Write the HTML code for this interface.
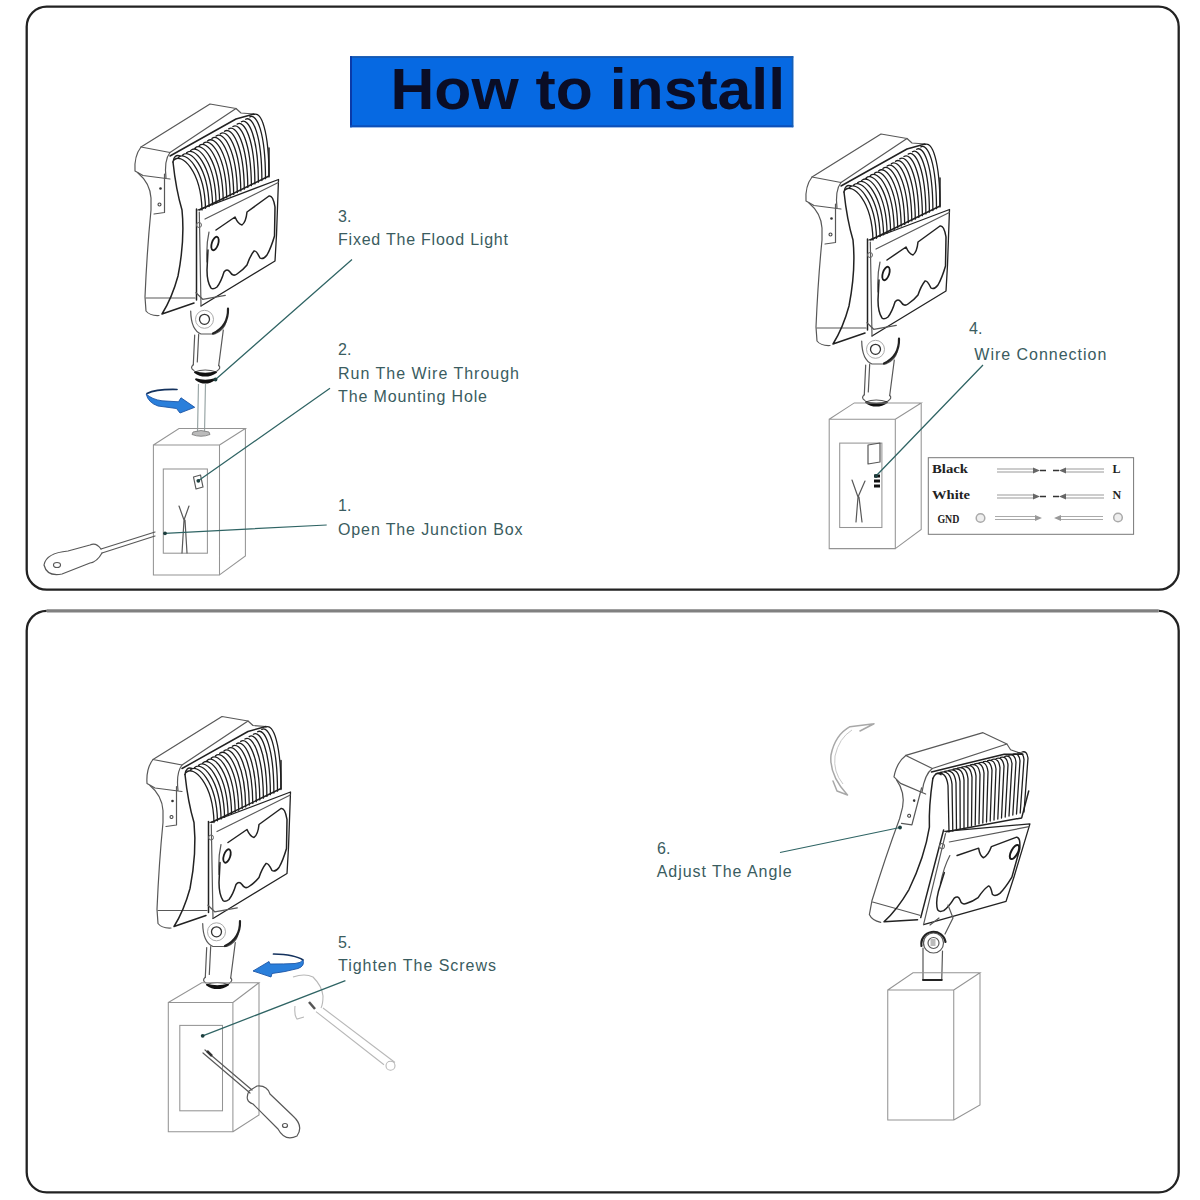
<!DOCTYPE html>
<html><head><meta charset="utf-8">
<style>
html,body{margin:0;padding:0;background:#fff;width:1200px;height:1200px;overflow:hidden}
svg{display:block}
.t{font-family:"Liberation Sans",sans-serif;font-size:16px;fill:#3a5c60}
.d{stroke:#222;stroke-width:1.5;fill:none;stroke-linejoin:round;stroke-linecap:round}
.l{stroke:#585858;stroke-width:1.2;fill:none;stroke-linejoin:round;stroke-linecap:round}
.f{stroke:#1e1e1e;stroke-width:1.3;fill:none;stroke-linecap:round}
.b{stroke:#949494;stroke-width:1.05;fill:none}
.ld{stroke:#2f6464;stroke-width:1.25;fill:none}
</style></head>
<body>
<svg width="1200" height="1200" viewBox="0 0 1200 1200">
<rect x="26.7" y="6.7" width="1152" height="583" rx="20" ry="20" fill="none" stroke="#222" stroke-width="2.3"/>
<path d="M46.7,610.8 A20,20 0 0 0 26.7,630.8 L26.7,1172.3 A20,20 0 0 0 46.7,1192.3 L1158.7,1192.3 A20,20 0 0 0 1178.7,1172.3 L1178.7,630.8 A20,20 0 0 0 1158.7,610.8" fill="none" stroke="#222" stroke-width="2.3"/>
<path d="M46.7,610.8 L1158.7,610.8" stroke="#808080" stroke-width="3.2"/>
<rect x="350" y="56.2" width="443.3" height="71" fill="#0669e2"/><path d="M350,57 H793.3" stroke="#1a56a8" stroke-width="1.6"/><path d="M351,56.2 V127.2" stroke="#0a3aa8" stroke-width="2"/><path d="M350,126.2 H793.3" stroke="#0c4fb8" stroke-width="2"/><path d="M792.5,56.2 V127.2" stroke="#175fb5" stroke-width="1.5"/>
<text x="390.5" y="109" textLength="394.6" lengthAdjust="spacingAndGlyphs" style="font-family:'Liberation Sans',sans-serif;font-weight:bold;font-size:57.5px;fill:#0a0d26">How to install</text>
<defs><g id="fl"><path class="l" d="M210,104 L236,108.5 L170,152.5 L141,147 Z"/>
<path class="l" d="M141,147 Q134,156 135,171 L143,175.5 L170,179 M170,152.5 Q164,160 166,178"/>
<path class="l" d="M236,108.5 L241,113 L254,114"/>
<path class="l" d="M138,173 Q150,183 151,198 L151,210 Q147,250 145,297 L146,311 Q150,316 159,315.5"/>
<path class="l" d="M164.5,174 L164.5,212.5 L154,214"/>
<circle cx="160.5" cy="188.5" r="1.3" fill="#333"/><circle cx="159.5" cy="204.5" r="1.5" fill="none" stroke="#444" stroke-width="1.1"/>
<path class="l" d="M146,298 L195,298"/>
<path class="d" d="M173,162 Q176,190 182,210 Q185,240 178,276 Q172,298 162,314 L194,303"/>
<path class="d" d="M173,162 Q174,154 180,156"/>
<path class="d" d="M170,156 L236,119 L254,114"/>
<path class="d" d="M199.5,210 L269,176 L269,148"/>
<path class="d" d="M196.5,209 L196.5,300"/>
<path class="d" style="stroke-width:1.3" d="M198,210 L278.5,179.5 L276.5,235 L275,261 L201,306"/>
<path class="l" d="M205,219 L278.3,182.5 M199.3,212 L201,306 M207,262 Q206,245 209,232"/>
<circle cx="199" cy="225" r="2.5" fill="none" stroke="#666" stroke-width="1"/>
<path class="d" d="M216,230 L235,217 Q238,224 242,225 Q246,222 247,212 L269,196 Q273,195 275,207 L274.5,236 Q271,248 267,255 Q263,260 260,258 Q256,250 254,251 Q250,256 247,265 Q243,270 237,274 Q233,277 230,272 Q227,268 224,272 Q221,282 217,287 Q213,290 211,288 Q207,282 207,270 L208,250"/></g>
<ellipse id="ov" cx="215" cy="243.5" rx="3.2" ry="7" transform="rotate(18 215 243.5)" fill="none" stroke="#1a1a1a" stroke-width="1.8"/>
<path id="fins" class="f" d="M174.0,160.0 C181.0,152.5 201.0,170.0 202.0,210.0 M178.2,157.6 C185.2,150.3 204.6,167.9 205.5,208.3 M182.4,155.2 C189.4,148.1 208.2,165.8 209.1,206.5 M186.6,152.8 C193.6,145.9 211.7,163.7 212.6,204.8 M190.8,150.4 C197.8,143.8 215.3,161.6 216.1,203.1 M195.1,148.0 C202.1,141.6 218.9,159.5 219.6,201.3 M199.3,145.6 C206.3,139.4 222.5,157.4 223.2,199.6 M203.5,143.2 C210.5,137.2 226.1,155.3 226.7,197.8 M207.7,140.8 C214.7,135.0 229.6,153.2 230.2,196.1 M211.9,138.4 C218.9,132.8 233.2,151.1 233.7,194.4 M216.1,136.1 C223.1,130.7 236.8,148.9 237.3,192.6 M220.3,133.7 C227.3,128.5 240.4,146.8 240.8,190.9 M224.5,131.3 C231.5,126.3 243.9,144.7 244.3,189.2 M228.7,128.9 C235.7,124.1 247.5,142.6 247.8,187.4 M232.9,126.5 C239.9,121.9 251.1,140.5 251.4,185.7 M237.2,124.1 C244.2,119.7 254.7,138.4 254.9,183.9 M241.4,121.7 C248.4,117.6 258.3,136.3 258.4,182.2 M245.6,119.3 C252.6,115.4 261.8,134.2 261.9,180.5 M249.8,116.9 C256.8,113.2 265.4,132.1 265.5,178.7 M254.0,114.5 C261.0,111.0 269.0,130.0 269.0,177.0"/>
<g id="kn"><path class="l" d="M196,292.7 L202.7,299.3 L225.3,295.3 M190.7,311 Q191,330 201,334 L214.7,334 Q224,330 226,322"/>
<circle cx="204.5" cy="319.3" r="9" fill="none" stroke="#aaa" stroke-width="1"/><circle cx="204.5" cy="319.3" r="5" fill="none" stroke="#333" stroke-width="1.3"/>
<path class="d" style="stroke-width:2.2" d="M228,308.7 Q228.5,326 213,333.5"/>
<path class="l" d="M194.7,335 L193.3,364.7 M223.3,330 L218.7,365.5 M198.7,334 L197.3,362"/>
<path class="l" d="M193.3,364.7 Q189.5,368 194,370.5 M218.7,365.5 Q221.5,368 217,371"/>
<path class="l" d="M194.5,372 Q205,368 216.5,372"/>
<path d="M194.5,372 Q205,379.5 216.5,372 Q205,375 194.5,372 Z" fill="#111" stroke="#111" stroke-width="1.6"/></g></defs>
<g transform=""><use href="#fl"/><use href="#ov"/><use href="#fins"/><use href="#kn"/></g>
<g transform="translate(671,30)"><use href="#fl"/><use href="#ov"/><use href="#fins"/><use href="#kn"/></g>
<g transform="translate(12,612.5)"><use href="#fl"/><use href="#ov"/><use href="#fins"/><use href="#kn"/></g>
<use href="#fl" transform="matrix(0.9623,0.2701,-0.2515,0.962,807.08,575.93)"/>
<ellipse cx="1014.5" cy="852" rx="3.3" ry="7.8" transform="rotate(28 1014.5 852)" fill="none" stroke="#1a1a1a" stroke-width="2"/>
<path class="f" d="M936.0,773.5 Q946.2,770.5 948.0,785.5 L949.0,832.0 M940.3,772.4 Q950.2,769.5 952.0,784.1 L952.8,831.0 M944.6,771.4 Q954.3,768.5 956.0,782.8 L956.5,830.0 M948.9,770.3 Q958.3,767.5 960.0,781.4 L960.2,829.0 M953.2,769.2 Q962.4,766.5 964.0,780.0 L964.0,828.0 M957.5,768.1 Q966.4,765.5 968.0,778.6 L967.8,827.0 M961.8,767.0 Q970.5,764.5 972.0,777.2 L971.5,826.0 M966.1,766.0 Q974.5,763.5 976.0,775.9 L975.2,825.0 M970.4,764.9 Q978.6,762.5 980.0,774.5 L979.0,824.0 M974.7,763.8 Q982.6,761.5 984.0,773.1 L982.8,823.0 M979.0,762.8 Q986.6,760.5 988.0,771.8 L986.5,822.0 M983.3,761.7 Q990.7,759.5 992.0,770.4 L990.2,821.0 M987.6,760.6 Q994.7,758.5 996.0,769.0 L994.0,820.0 M991.9,759.5 Q998.8,757.5 1000.0,767.6 L997.8,819.0 M996.2,758.5 Q1002.8,756.5 1004.0,766.2 L1001.5,818.0 M1000.5,757.4 Q1006.9,755.5 1008.0,764.9 L1005.2,817.0 M1004.8,756.3 Q1010.9,754.5 1012.0,763.5 L1009.0,816.0 M1009.1,755.2 Q1015.0,753.5 1016.0,762.1 L1012.8,815.0 M1013.4,754.1 Q1019.0,752.5 1020.0,760.8 L1016.5,814.0 M1017.7,753.1 Q1023.1,751.5 1024.0,759.4 L1020.2,813.0 M1022.0,752.0 Q1027.1,750.5 1028.0,758.0 L1024.0,812.0"/>
<path d="M195.5,379 Q205.3,386.5 215,379 Q205.3,382 195.5,379 Z" fill="#111" stroke="#111" stroke-width="1.6"/>
<path d="M198.5,384 L197.5,432 M205.5,384 L204.5,432" stroke="#99a6a6" stroke-width="1.2" fill="none"/>
<path d="M192,434.5 Q201,438 210,434.5 L209,432 Q201,429 193,432 Z" fill="#bbb" stroke="#777" stroke-width="0.8"/>
<path class="d" style="stroke-width:2.2" d="M921.5,946 A11.5,11.5 0 0 1 945.5,942"/>
<circle cx="933.5" cy="943" r="10" class="l"/><circle cx="933.5" cy="943" r="5.5" class="l"/><rect x="930.5" y="939" width="5" height="7" fill="#bbb"/>
<path class="l" d="M923,948 L923,979.5 M942.5,951 L941.75,979.5 M930,925 L939,918 M948,905 L953,918 L945,934"/>
<path class="d" style="stroke-width:2" d="M923,980 L941.75,980"/>
<path class="b" d="M153.4,445 L219.5,445 L219.5,574.9 L153.4,574.9 Z M153.4,445 L179,428.5 L245.4,428.5 L219.5,445 M245.4,428.5 L245.4,556 L219.5,574.9"/>
<rect class="b" x="163.3" y="469" width="44.1" height="84.2"/>
<path class="b" d="M829.2,419.2 L895.3,419.2 L895.3,548.6 L829.2,548.6 Z M829.2,419.2 L854.3,402.9 L921.2,402.9 L895.3,419.2 M921.2,402.9 L921.2,529.4 L895.3,548.6"/>
<rect class="b" x="839.7" y="443.1" width="42.2" height="84.4"/>
<path class="b" d="M168.3,1002.5 L232.9,1002.5 L232.9,1131.7 L168.3,1131.7 Z M168.3,1002.5 L201.7,982.7 L259,982.7 L232.9,1002.5 M259,982.7 L259,1115 L232.9,1131.7"/>
<rect class="b" x="179.8" y="1025.4" width="42.7" height="85.4"/>
<path class="b" d="M887.75,990 L953.75,990 L953.75,1120 L887.75,1120 Z M887.75,990 L913,972.75 L980,972.75 L953.75,990 M980,972.75 L980,1105 L953.75,1120"/>
<path class="l" d="M193.5,477 L200.5,475 L203,487 L196,489 Z"/>
<path class="l" d="M179,506 L184,520 L189,506 M184,520 L182,553 M185,520 L187,553"/>
<path class="l" d="M868,445 L880,443 L880,462 L868,464 Z"/>
<path d="M874,476 h6 M874,481 h6 M874,486 h6" stroke="#111" stroke-width="3"/>
<path class="l" d="M852,480 L858,497 L865,481 M858,497 L856,522 M859,497 L862,522"/>
<path class="l" d="M101,549 L155,532 M102,553 L155,536"/>
<path class="l" d="M101,549 Q96,542 90,545 L68,551 Q46,553 44,565 Q47,577 62,574 L90,563 Q97,562 102,553"/>
<ellipse cx="57" cy="565" rx="3.5" ry="2.5" class="l"/>
<path class="l" d="M205,1050 L252,1090 M203,1053 L250,1093"/>
<path d="M207,1051 L212,1056" stroke="#333" stroke-width="2.5"/>
<path class="l" d="M249,1091 Q244,1101 253,1104 L278,1129 Q285,1142 297,1136 Q304,1126 293,1116 L270,1094 Q267,1085 257,1086 Z"/>
<ellipse cx="285" cy="1125.5" rx="2.5" ry="2" class="l"/>
<path stroke="#b8b8b8" stroke-width="1.1" fill="none" d="M293,977 Q305,973 313,977 Q322,986 323,996 Q323,1004 321,1008 M295,1006 Q294,1015 297,1019 L304,1017 M316,1011.6 L384,1064.7 M323,1008 L395,1062.5"/>
<path d="M309,1002 L315,1009" stroke="#555" stroke-width="2.5"/>
<circle cx="390.5" cy="1065.8" r="4.5" fill="none" stroke="#b8b8b8" stroke-width="1.1"/>
<path d="M147,393.5 Q156,389 177,389.5" stroke="#14325e" stroke-width="1.7" fill="none" stroke-linecap="round"/>
<path d="M146.2,394 Q152,399.5 162,400.8 L178.5,401.8 L181,397.8 L194.7,407.3 L180,413 L176.5,408.5 L158,406 Q148,402.5 146.2,394 Z" fill="#2a7fdb" stroke="#1d56a6" stroke-width="0.9"/>
<path d="M273.5,954 Q295,954.5 303,960" stroke="#14325e" stroke-width="1.7" fill="none" stroke-linecap="round"/>
<path d="M253,971 L269,961.5 L270,964 Q285,964 295,963.5 Q301,963 303,960 Q305,966 298,968.5 Q285,972 272,973.5 L271,977 Z" fill="#2a7fdb" stroke="#1d56a6" stroke-width="0.9"/>
<path stroke="#a8a8a8" stroke-width="1.5" fill="none" stroke-linecap="round" stroke-linejoin="round" d="M874,723.75 L850,726.7 Q835,735 831,755 Q829,775 847.5,795 M874,723.75 L860,731 M833,781 L837,791 L847.5,795"/><path stroke="#c8c8c8" stroke-width="1" fill="none" d="M852,730 Q839,738 835,756 Q833,772 843,784"/>
<rect x="928.3" y="457.7" width="205.3" height="76.6" fill="none" stroke="#777" stroke-width="1"/>
<path stroke="#999" stroke-width="1" fill="none" d="M997,469.0 h36 M997,472.0 h36 M1066,469.0 h38 M1066,472.0 h38"/>
<path fill="#666" d="M1033,467.5 L1040,470.5 L1033,473.5 Z M1066,467.5 L1059,470.5 L1066,473.5 Z"/><path stroke="#333" stroke-width="1.3" d="M1040,470.5 h6 M1053,470.5 h6"/>
<path stroke="#999" stroke-width="1" fill="none" d="M997,495.0 h36 M997,498.0 h36 M1066,495.0 h38 M1066,498.0 h38"/>
<path fill="#666" d="M1033,493.5 L1040,496.5 L1033,499.5 Z M1066,493.5 L1059,496.5 L1066,499.5 Z"/><path stroke="#333" stroke-width="1.3" d="M1040,496.5 h6 M1053,496.5 h6"/>
<path stroke="#aaa" stroke-width="1.2" fill="none" d="M995,516.5 h40 M995,519.5 h40 M1061,516.5 h42 M1061,519.5 h42"/><path fill="#999" d="M1035,515 L1042,518 L1035,521 Z M1061,515 L1054,518 L1061,521 Z"/>
<circle cx="980.5" cy="518" r="4.3" fill="#eee" stroke="#aaa" stroke-width="1.5"/><circle cx="1118" cy="517.5" r="4.3" fill="#eee" stroke="#aaa" stroke-width="1.5"/>
<g style="font-family:'Liberation Serif',serif;font-weight:bold;font-size:12px;fill:#222"><text x="932" y="473" textLength="36" lengthAdjust="spacingAndGlyphs">Black</text><text x="932" y="498.6" textLength="38" lengthAdjust="spacingAndGlyphs">White</text><text x="937.4" y="522.5" textLength="22" lengthAdjust="spacingAndGlyphs">GND</text><text x="1112.6" y="473">L</text><text x="1112.6" y="498.6">N</text></g>
<path class="ld" d="M352,259.5 L215.5,379.5 M330,388.3 L198.3,480.8 M326.7,525 L165,533.3 M983,365 L876,476 M345.4,980.6 L202.7,1035.8 M780,852.5 L900,827.5"/>
<circle cx="215.5" cy="379.5" r="1.9" fill="#1d3f3f"/>
<circle cx="198.3" cy="480.8" r="1.9" fill="#1d3f3f"/>
<circle cx="165" cy="533.3" r="1.9" fill="#1d3f3f"/>
<circle cx="876" cy="476" r="1.9" fill="#1d3f3f"/>
<circle cx="202.7" cy="1035.8" r="1.9" fill="#1d3f3f"/>
<circle cx="900" cy="827.5" r="1.9" fill="#1d3f3f"/>
<g class="t">
<text x="338" y="222">3.</text>
<text x="338" y="244.6" textLength="170" lengthAdjust="spacing">Fixed The Flood Light</text>
<text x="338" y="355">2.</text>
<text x="338" y="378.7" textLength="181" lengthAdjust="spacing">Run The Wire Through</text>
<text x="338" y="402" textLength="149" lengthAdjust="spacing">The Mounting Hole</text>
<text x="338" y="511.3">1.</text>
<text x="338" y="535" textLength="184.5" lengthAdjust="spacing">Open The Junction Box</text>
<text x="969" y="333.7">4.</text>
<text x="974.3" y="359.7" textLength="132" lengthAdjust="spacing">Wire Connection</text>
<text x="338" y="947.6">5.</text>
<text x="338" y="970.9" textLength="158" lengthAdjust="spacing">Tighten The Screws</text>
<text x="657" y="854">6.</text>
<text x="656.7" y="877" textLength="135" lengthAdjust="spacing">Adjust The Angle</text>
</g>
</svg>
</body></html>
